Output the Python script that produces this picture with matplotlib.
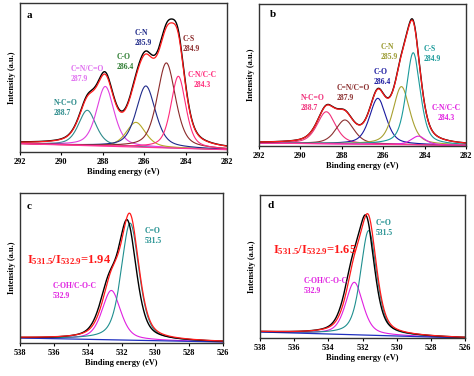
import numpy as np
import matplotlib
matplotlib.use("Agg")
import matplotlib.pyplot as plt

plt.rcParams["font.family"] = ["Liberation Serif", "DejaVu Serif"]
plt.rcParams["font.weight"] = "bold"
plt.rcParams["mathtext.fontset"] = "custom"
plt.rcParams["mathtext.rm"] = "Liberation Serif:bold"
plt.rcParams["mathtext.it"] = "Liberation Serif:bold"
plt.rcParams["mathtext.bf"] = "Liberation Serif:bold"

# ---- C 1s, panel a ----
a_labels = ["N-C=O", "C=N/C=O", "C-O", "C-N", "C-S", "C-N/C-C"]
a_label_be = ["288.7", "287.9", "286.4", "285.9", "284.9", "284.3"]
a_centers = [288.75, 287.88, 286.4, 285.92, 284.93, 284.35]
a_heights = [106, 179, 74, 184, 255, 216]
a_fwhm = [1.0, 1.0, 1.1, 1.1, 1.05, 0.85]
a_bg = [25, 7]            # background at 292 and 282 eV

# ---- C 1s, panel b ----
b_labels = ["N-C=O", "C=N/C=O", "C-O", "C-N", "C-S", "C-N/C-C"]
b_label_be = ["288.7", "287.9", "286.4", "285.9", "284.9", "284.3"]
b_centers = [288.75, 287.85, 286.26, 285.12, 284.55, 284.3]
b_heights = [96, 72, 138, 174, 276, 26]
b_fwhm = [1.05, 1.05, 0.95, 0.95, 0.8, 0.8]
b_bg = [9, 2]

# ---- O 1s, panel c ----
c_labels = ["C-OH/C-O-C", "C=O"]
c_label_be = ["532.9", "531.5"]
c_centers = [532.6, 531.49]
c_heights = [148, 351]
c_fwhm = [1.3, 1.25]
c_bg = [15, 3]            # background at 538 and 526 eV
c_ratio = "1.94"

# ---- O 1s, panel d ----
d_labels = ["C-OH/C-O-C", "C=O"]
d_label_be = ["532.9", "531.5"]
d_centers = [532.48, 531.64]
d_heights = [157, 313]
d_fwhm = [1.2, 1.12]
d_bg = [18, 0]
d_ratio = "1.65"


def pvoigt(x, c, h, w, eta=0.5):
    g = np.exp(-4 * np.log(2) * ((x - c) / w) ** 2)
    l = 1 / (1 + 4 * ((x - c) / w) ** 2)
    return h * ((1 - eta) * g + eta * l)


def draw_panel(ax, xr, ylim, centers, heights, fwhm, bg, colors, bg_color,
               black_shift, black_scale):
    x = np.linspace(xr[1], xr[0], 800)
    base = bg[1] + (bg[0] - bg[1]) * (x - xr[1]) / (xr[0] - xr[1])
    total = base.copy()
    for c, h, w, col in zip(centers, heights, fwhm, colors):
        comp = pvoigt(x, c, h, w)
        total += comp
        ax.plot(x, base + comp, color=col, lw=0.8)
    ax.plot(x, base, color=bg_color, lw=0.9)
    # measured spectrum (black) and fitted envelope (red)
    meas = np.interp(x - black_shift, x, total) * black_scale
    ax.plot(x, meas, color="black", lw=1.0)
    ax.plot(x, total, color="#ff1a1a", lw=0.9)
    ax.set_xlim(xr[0], xr[1])
    ax.set_ylim(*ylim)
    ax.set_yticks([])
    ax.set_xticks(np.arange(xr[1], xr[0] + 1, 2))
    ax.tick_params(axis="x", direction="out", length=2.5, width=0.8,
                   labelsize=6, pad=1.5)
    for sp in ax.spines.values():
        sp.set_linewidth(1.0)
        sp.set_color("#333333")
    ax.set_xlabel("Binding energy (eV)", fontsize=6, fontweight="bold", labelpad=2)
    ax.set_ylabel("Intensity (a.u.)", fontsize=6, fontweight="bold", labelpad=3)


def rect(l, t, r, b):
    return [l / 474, 1 - b / 376, (r - l) / 474, (b - t) / 376]


fig = plt.figure(figsize=(4.74, 3.76), dpi=100)

# panel a
ax = fig.add_axes(rect(20, 3, 227, 152))
a_curve = ["#2e8b8b", "#e040e0", "#b5a825", "#1f2a8a", "#8b2a2a", "#ff2a7a"]
a_text = ["#2a8a8a", "#e070f0", "#2e7d32", "#1f2a8a", "#8b2a2a", "#ff2a7a"]
draw_panel(ax, (292, 282), (0, 447), a_centers, a_heights, a_fwhm, a_bg,
           a_curve, "#ff3399", 0.0, 1.03)
a_pos = [(0.164, 0.295), (0.246, 0.523), (0.469, 0.604),
         (0.556, 0.765), (0.787, 0.725), (0.812, 0.483)]
for lab, be, (fx, fy), col in zip(a_labels, a_label_be, a_pos, a_text):
    ax.text(fx, fy, lab + "\n" + be, transform=ax.transAxes, fontsize=5.5,
            color=col, ha="left", va="center", linespacing=1.25,
            multialignment="center" if lab == "C-N/C-C" else "left")
ax.text(0.034, 0.919, "a", transform=ax.transAxes, fontsize=8, va="center")

# panel b
ax = fig.add_axes(rect(259, 4, 466, 146))
b_curve = ["#f0307a", "#8b3030", "#1a1aa0", "#a8a030", "#1a9a9a", "#e020e0"]
b_text = ["#f0307a", "#8b3030", "#1a1aa0", "#9a9a30", "#1a9a9a", "#e020e0"]
draw_panel(ax, (292, 282), (0, 426), b_centers, b_heights, b_fwhm, b_bg,
           b_curve, "#ff3399", 0.0, 1.01)
b_pos = [(0.203, 0.303), (0.377, 0.373), (0.556, 0.486),
         (0.589, 0.662), (0.797, 0.648), (0.836, 0.232)]
for lab, be, (fx, fy), col in zip(b_labels, b_label_be, b_pos, b_text):
    ax.text(fx, fy, lab + "\n" + be, transform=ax.transAxes, fontsize=5.5,
            color=col, ha="left", va="center", linespacing=1.25,
            multialignment="center" if lab == "C-N/C-C" else "left")
ax.text(0.053, 0.923, "b", transform=ax.transAxes, fontsize=8, va="center")

# panel c
ax = fig.add_axes(rect(20, 193, 223, 343))
o_curve = ["#e020e0", "#1f8f8f"]
draw_panel(ax, (538, 526), (0, 450), c_centers, c_heights, c_fwhm, c_bg,
           o_curve, "#2030c0", 0.15, 0.95)
c_pos = [(0.163, 0.347), (0.616, 0.713)]
for lab, be, (fx, fy), col in zip(c_labels, c_label_be, c_pos, o_curve):
    ax.text(fx, fy, lab + "\n" + be, transform=ax.transAxes, fontsize=5.5,
            color=col, ha="left", va="center", linespacing=1.25)
ax.text(0.034, 0.553, r"I$_{531.5}$/I$_{532.9}$=" + c_ratio,
        transform=ax.transAxes, fontsize=9, color="#ff1a1a", va="center")
ax.text(0.034, 0.913, "c", transform=ax.transAxes, fontsize=8, va="center")

# panel d
ax = fig.add_axes(rect(260, 195, 465, 338))
draw_panel(ax, (538, 526), (0, 428), d_centers, d_heights, d_fwhm, d_bg,
           o_curve, "#2030c0", 0.12, 0.99)
d_pos = [(0.215, 0.364), (0.566, 0.769)]
for lab, be, (fx, fy), col in zip(d_labels, d_label_be, d_pos, o_curve):
    ax.text(fx, fy, lab + "\n" + be, transform=ax.transAxes, fontsize=5.5,
            color=col, ha="left", va="center", linespacing=1.25)
ax.text(0.063, 0.615, r"I$_{531.5}$/I$_{532.9}$=" + d_ratio,
        transform=ax.transAxes, fontsize=9, color="#ff1a1a", va="center")
ax.text(0.039, 0.93, "d", transform=ax.transAxes, fontsize=8, va="center")

fig.savefig("out.png", dpi=100)
